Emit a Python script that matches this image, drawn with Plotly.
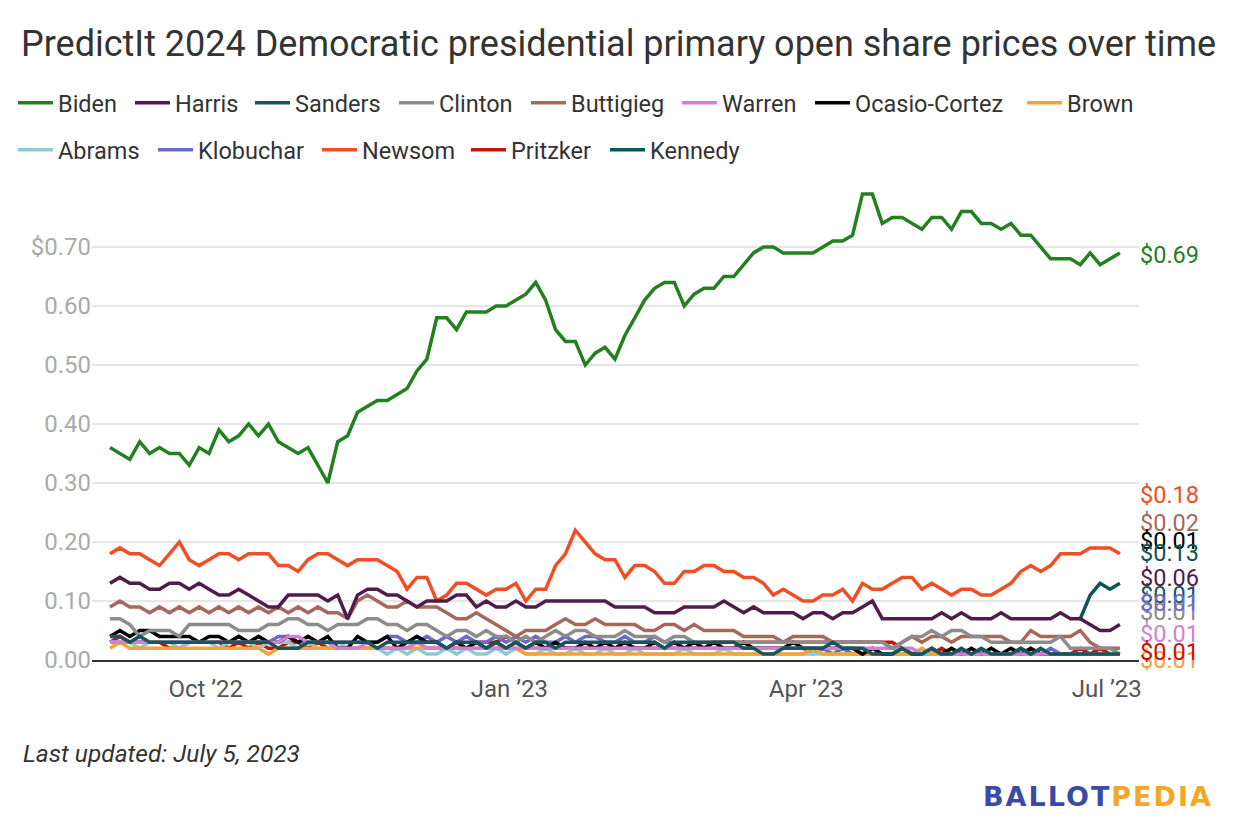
import pandas as pd
import plotly.graph_objects as go

# ---------------- data (share prices, sampled every 3 days) ----------------
dates = pd.date_range("2022-09-02", periods=103, freq="3D")

biden = [0.36,0.35,0.34,0.37,0.35,0.36,0.35,0.35,0.33,0.36,
         0.35,0.39,0.37,0.38,0.40,0.38,0.40,0.37,0.36,0.35,
         0.36,0.33,0.30,0.37,0.38,0.42,0.43,0.44,0.44,0.45,
         0.46,0.49,0.51,0.58,0.58,0.56,0.59,0.59,0.59,0.60,
         0.60,0.61,0.62,0.64,0.61,0.56,0.54,0.54,0.50,0.52,
         0.53,0.51,0.55,0.58,0.61,0.63,0.64,0.64,0.60,0.62,
         0.63,0.63,0.65,0.65,0.67,0.69,0.70,0.70,0.69,0.69,
         0.69,0.69,0.70,0.71,0.71,0.72,0.79,0.79,0.74,0.75,
         0.75,0.74,0.73,0.75,0.75,0.73,0.76,0.76,0.74,0.74,
         0.73,0.74,0.72,0.72,0.70,0.68,0.68,0.68,0.67,0.69,
         0.67,0.68,0.69]

harris = [0.13,0.14,0.13,0.13,0.12,0.12,0.13,0.13,0.12,0.13,
          0.12,0.11,0.11,0.12,0.11,0.10,0.09,0.09,0.11,0.11,
          0.11,0.11,0.10,0.11,0.07,0.11,0.12,0.12,0.11,0.11,
          0.10,0.09,0.10,0.10,0.10,0.11,0.11,0.09,0.10,0.09,
          0.09,0.10,0.09,0.09,0.10,0.10,0.10,0.10,0.10,0.10,
          0.10,0.09,0.09,0.09,0.09,0.08,0.08,0.08,0.09,0.09,
          0.09,0.09,0.10,0.09,0.08,0.09,0.08,0.08,0.08,0.08,
          0.07,0.08,0.08,0.07,0.08,0.08,0.09,0.10,0.07,0.07,
          0.07,0.07,0.07,0.07,0.08,0.07,0.08,0.07,0.07,0.07,
          0.08,0.07,0.07,0.07,0.07,0.07,0.08,0.07,0.07,0.06,
          0.05,0.05,0.06]

sanders = [0.04,0.04,0.03,0.04,0.03,0.03,0.03,0.03,0.03,0.03,
           0.03,0.03,0.03,0.03,0.03,0.03,0.03,0.02,0.02,0.02,
           0.03,0.03,0.03,0.03,0.03,0.03,0.03,0.02,0.03,0.03,
           0.03,0.03,0.03,0.03,0.02,0.03,0.03,0.03,0.02,0.03,
           0.02,0.03,0.02,0.03,0.03,0.02,0.03,0.03,0.03,0.03,
           0.03,0.03,0.03,0.03,0.03,0.03,0.02,0.03,0.03,0.03,
           0.03,0.03,0.03,0.03,0.02,0.02,0.01,0.01,0.02,0.02,
           0.02,0.02,0.02,0.03,0.02,0.02,0.02,0.01,0.01,0.01,
           0.02,0.01,0.01,0.02,0.01,0.01,0.02,0.01,0.02,0.01,
           0.01,0.01,0.02,0.01,0.02,0.01,0.01,0.01,0.01,0.01,
           0.01,0.01,0.01]

clinton = [0.07,0.07,0.06,0.04,0.05,0.05,0.05,0.04,0.06,0.06,
           0.06,0.06,0.06,0.05,0.05,0.05,0.06,0.06,0.07,0.07,
           0.06,0.06,0.05,0.06,0.06,0.06,0.07,0.07,0.06,0.06,
           0.05,0.06,0.06,0.05,0.04,0.05,0.05,0.04,0.05,0.04,
           0.04,0.03,0.04,0.03,0.04,0.05,0.04,0.05,0.05,0.04,
           0.04,0.04,0.05,0.04,0.04,0.04,0.03,0.04,0.04,0.03,
           0.03,0.03,0.03,0.03,0.03,0.03,0.03,0.03,0.03,0.03,
           0.03,0.03,0.03,0.03,0.03,0.03,0.03,0.03,0.03,0.02,
           0.03,0.04,0.04,0.05,0.04,0.05,0.05,0.04,0.04,0.03,
           0.03,0.03,0.03,0.03,0.03,0.03,0.04,0.02,0.02,0.02,
           0.02,0.02,0.01]

buttigieg = [0.09,0.10,0.09,0.09,0.08,0.09,0.08,0.09,0.08,0.09,
             0.08,0.09,0.08,0.09,0.08,0.09,0.08,0.09,0.08,0.09,
             0.08,0.09,0.08,0.08,0.07,0.10,0.11,0.10,0.09,0.09,
             0.10,0.09,0.09,0.09,0.08,0.07,0.07,0.08,0.07,0.06,
             0.05,0.04,0.05,0.05,0.05,0.06,0.07,0.06,0.06,0.07,
             0.06,0.06,0.06,0.06,0.05,0.05,0.06,0.06,0.05,0.06,
             0.05,0.05,0.05,0.05,0.04,0.04,0.04,0.04,0.03,0.04,
             0.04,0.04,0.04,0.03,0.03,0.03,0.03,0.03,0.03,0.02,
             0.03,0.04,0.03,0.04,0.04,0.03,0.04,0.04,0.04,0.04,
             0.04,0.03,0.03,0.05,0.04,0.04,0.04,0.04,0.05,0.03,
             0.02,0.02,0.02]

warren = [0.03,0.03,0.03,0.03,0.03,0.03,0.03,0.03,0.03,0.03,
          0.03,0.03,0.03,0.03,0.03,0.03,0.03,0.03,0.04,0.04,
          0.03,0.03,0.03,0.02,0.02,0.02,0.03,0.02,0.02,0.02,
          0.02,0.03,0.02,0.02,0.02,0.02,0.02,0.02,0.02,0.02,
          0.02,0.02,0.02,0.02,0.02,0.02,0.02,0.02,0.02,0.02,
          0.02,0.02,0.02,0.02,0.02,0.02,0.02,0.02,0.02,0.02,
          0.02,0.02,0.02,0.02,0.02,0.02,0.02,0.02,0.02,0.02,
          0.02,0.02,0.02,0.02,0.02,0.02,0.02,0.02,0.02,0.02,
          0.02,0.02,0.01,0.02,0.01,0.01,0.01,0.01,0.01,0.01,
          0.01,0.01,0.01,0.01,0.01,0.01,0.01,0.01,0.01,0.01,
          0.01,0.01,0.01]

ocasio_cortez = [0.04,0.05,0.04,0.05,0.05,0.04,0.04,0.04,0.04,0.03,
                 0.04,0.04,0.03,0.04,0.03,0.04,0.03,0.03,0.04,0.03,
                 0.04,0.03,0.04,0.02,0.02,0.04,0.03,0.03,0.04,0.02,
                 0.03,0.04,0.03,0.03,0.02,0.03,0.02,0.03,0.02,0.03,
                 0.02,0.03,0.02,0.03,0.02,0.03,0.02,0.02,0.03,0.02,
                 0.03,0.02,0.03,0.02,0.02,0.03,0.02,0.03,0.02,0.03,
                 0.02,0.03,0.02,0.02,0.03,0.02,0.02,0.02,0.02,0.03,
                 0.02,0.02,0.02,0.02,0.02,0.02,0.01,0.02,0.01,0.01,
                 0.02,0.01,0.01,0.02,0.01,0.02,0.01,0.02,0.01,0.02,
                 0.01,0.02,0.01,0.02,0.01,0.01,0.01,0.01,0.01,0.01,
                 0.01,0.01,0.01]

brown = [0.02,0.03,0.02,0.02,0.02,0.02,0.02,0.02,0.02,0.02,
         0.02,0.02,0.02,0.02,0.02,0.02,0.01,0.02,0.02,0.02,
         0.02,0.02,0.02,0.02,0.02,0.02,0.02,0.02,0.02,0.02,
         0.02,0.02,0.02,0.02,0.02,0.02,0.02,0.02,0.02,0.02,
         0.02,0.02,0.01,0.01,0.01,0.01,0.01,0.01,0.01,0.01,
         0.01,0.01,0.01,0.01,0.01,0.01,0.01,0.01,0.01,0.01,
         0.01,0.01,0.01,0.01,0.01,0.01,0.01,0.01,0.01,0.01,
         0.01,0.02,0.01,0.01,0.01,0.01,0.01,0.01,0.01,0.01,
         0.01,0.01,0.02,0.01,0.01,0.01,0.01,0.01,0.01,0.01,
         0.01,0.01,0.01,0.01,0.01,0.01,0.01,0.01,0.01,0.01,
         0.01,0.01,0.01]

abrams = [0.03,0.03,0.03,0.02,0.03,0.03,0.03,0.02,0.03,0.03,
          0.03,0.02,0.03,0.03,0.03,0.02,0.03,0.03,0.03,0.02,
          0.03,0.02,0.02,0.03,0.02,0.02,0.02,0.02,0.01,0.02,
          0.01,0.02,0.01,0.01,0.02,0.01,0.02,0.01,0.01,0.02,
          0.01,0.02,0.01,0.01,0.02,0.01,0.01,0.02,0.01,0.01,
          0.02,0.01,0.01,0.02,0.01,0.01,0.01,0.01,0.02,0.01,
          0.01,0.01,0.02,0.01,0.01,0.01,0.01,0.01,0.01,0.01,
          0.01,0.01,0.01,0.01,0.01,0.01,0.01,0.01,0.01,0.01,
          0.01,0.01,0.01,0.01,0.01,0.01,0.01,0.01,0.01,0.01,
          0.01,0.01,0.01,0.01,0.01,0.01,0.01,0.01,0.01,0.01,
          0.01,0.01,0.01]

klobuchar = [0.03,0.03,0.03,0.03,0.03,0.03,0.03,0.03,0.03,0.03,
             0.03,0.03,0.03,0.03,0.03,0.03,0.03,0.04,0.04,0.03,
             0.03,0.03,0.03,0.03,0.03,0.03,0.03,0.03,0.04,0.04,
             0.03,0.03,0.04,0.03,0.04,0.03,0.04,0.03,0.03,0.04,
             0.03,0.04,0.03,0.04,0.03,0.03,0.04,0.03,0.04,0.04,
             0.03,0.03,0.04,0.03,0.03,0.04,0.03,0.03,0.02,0.02,
             0.02,0.02,0.02,0.02,0.02,0.02,0.02,0.02,0.02,0.02,
             0.02,0.01,0.02,0.01,0.02,0.01,0.01,0.01,0.01,0.01,
             0.01,0.01,0.01,0.01,0.01,0.01,0.01,0.01,0.01,0.01,
             0.01,0.01,0.01,0.01,0.01,0.02,0.01,0.01,0.01,0.01,
             0.01,0.01,0.01]

newsom = [0.18,0.19,0.18,0.18,0.17,0.16,0.18,0.20,0.17,0.16,
          0.17,0.18,0.18,0.17,0.18,0.18,0.18,0.16,0.16,0.15,
          0.17,0.18,0.18,0.17,0.16,0.17,0.17,0.17,0.16,0.15,
          0.12,0.14,0.14,0.10,0.11,0.13,0.13,0.12,0.11,0.12,
          0.12,0.13,0.10,0.12,0.12,0.16,0.18,0.22,0.20,0.18,
          0.17,0.17,0.14,0.16,0.16,0.15,0.13,0.13,0.15,0.15,
          0.16,0.16,0.15,0.15,0.14,0.14,0.13,0.11,0.12,0.11,
          0.10,0.10,0.11,0.11,0.12,0.10,0.13,0.12,0.12,0.13,
          0.14,0.14,0.12,0.13,0.12,0.11,0.12,0.12,0.11,0.11,
          0.12,0.13,0.15,0.16,0.15,0.16,0.18,0.18,0.18,0.19,
          0.19,0.19,0.18]

pritzker = [0.03,0.04,0.03,0.03,0.03,0.03,0.02,0.02,0.03,0.03,
            0.03,0.03,0.02,0.03,0.02,0.03,0.02,0.02,0.03,0.03,
            0.02,0.03,0.02,0.02,0.02,0.02,0.02,0.02,0.02,0.02,
            0.02,0.03,0.02,0.02,0.02,0.02,0.02,0.03,0.03,0.03,
            0.04,0.03,0.02,0.02,0.02,0.02,0.02,0.02,0.02,0.02,
            0.02,0.02,0.02,0.02,0.02,0.02,0.02,0.02,0.02,0.02,
            0.02,0.03,0.03,0.03,0.03,0.03,0.03,0.03,0.03,0.03,
            0.03,0.03,0.03,0.03,0.03,0.03,0.03,0.03,0.03,0.03,
            0.02,0.01,0.01,0.01,0.02,0.01,0.01,0.01,0.01,0.01,
            0.01,0.01,0.02,0.01,0.01,0.01,0.01,0.01,0.02,0.01,
            0.02,0.01,0.01]

kennedy_dates = dates[-5:]
kennedy = [0.07,0.11,0.13,0.12,0.13]

names = ["Biden", "Harris", "Sanders", "Clinton", "Buttigieg", "Warren",
         "Ocasio-Cortez", "Brown", "Abrams", "Klobuchar", "Newsom",
         "Pritzker", "Kennedy"]
values = [biden, harris, sanders, clinton, buttigieg, warren, ocasio_cortez,
          brown, abrams, klobuchar, newsom, pritzker, kennedy]
xs = [dates] * 12 + [kennedy_dates]

# ---------------- styling / layout positions ----------------
colors = ["#23801f", "#521b4d", "#17575c", "#8c8c8c", "#a5695a", "#d47fd6",
          "#000000", "#f2a33a", "#93c8d2", "#6c6cc8", "#f04e23", "#c1160c",
          "#0f5459"]
# legend entry positions (left end of the key line, px) and row centre (px)
legend_px = [20, 137, 257, 401, 533, 684, 817, 1029, 20, 160, 324, 473, 612]
legend_row = [103] * 8 + [150] * 5
# end-label vertical positions (axis units, de-collided like the original)
label_y = [0.686, 0.139, 0.110, 0.082, 0.232, 0.044, 0.202, 0.000, -0.009,
           0.097, 0.280, 0.014, 0.181]

y_ticks = [0, 0.1, 0.2, 0.3, 0.4, 0.5, 0.6, 0.7]
y_ticktext = ["0.00", "0.10", "0.20", "0.30", "0.40", "0.50", "0.60", "$0.70"]
x_ticks = ["2022-10-01", "2023-01-01", "2023-04-01", "2023-07-01"]
x_ticktext = ["Oct \u201922", "Jan \u201923", "Apr \u201923", "Jul \u201923"]

for v in values[:-1]:
    assert len(v) == len(dates), len(v)

FONT = "Roboto"
W, H = 1240, 840
L, R, T, B = 92, 101, 188, 180
PW, PH = W - L - R, H - T - B
LEG_OFFSET = 7   # px between legend box origin and the key line

fig = go.Figure()
# draw in reverse so the first series sits on top
for i in reversed(range(len(names))):
    fig.add_trace(go.Scatter(
        x=xs[i], y=values[i], name=names[i], mode="lines",
        line=dict(color=colors[i], width=3.5),
        legend="legend" if i == 0 else "legend%d" % (i + 1),
        hoverinfo="skip",
    ))

legends = {}
for i in range(len(names)):
    key = "legend" if i == 0 else "legend%d" % (i + 1)
    legends[key] = dict(
        orientation="h", xref="container", yref="container",
        x=(legend_px[i] - LEG_OFFSET) / W, xanchor="left",
        y=1 - legend_row[i] / H, yanchor="middle",
        font=dict(family=FONT, size=23.5, color="#333333"),
        bgcolor="rgba(0,0,0,0)", itemwidth=35, itemclick=False,
    )

annotations = []
for i in range(len(names)):
    annotations.append(dict(
        xref="paper", yref="y", x=1, y=label_y[i], xanchor="left",
        yanchor="middle", xshift=-1, showarrow=False,
        text="$%.2f" % values[i][-1],
        font=dict(family=FONT, size=23.5, color=colors[i]),
    ))

annotations.append(dict(
    xref="paper", yref="paper", x=(21 - L) / PW, y=(660 - 753) / PH,
    xanchor="left", yanchor="middle", showarrow=False,
    text="<i>Last updated: July 5, 2023</i>",
    font=dict(family=FONT, size=24.5, color="#333333"),
))
annotations.append(dict(
    xref="paper", yref="paper", x=(1215 - L) / PW, y=(660 - 796) / PH,
    xanchor="right", yanchor="middle", showarrow=False,
    text="<b><span style='color:#3a4aa6;letter-spacing:2px'>BALLOT</span>"
         "<span style='color:#f5a623;letter-spacing:2px'>PEDIA</span></b>",
    font=dict(family="DejaVu Sans", size=27),
))

fig.update_layout(
    width=W, height=H,
    margin=dict(l=L, r=R, t=T, b=B),
    paper_bgcolor="white", plot_bgcolor="white",
    font=dict(family=FONT, color="#333333"),
    title=dict(
        text="PredictIt 2024 Democratic presidential primary open share prices over time",
        x=21 / W, xanchor="left", xref="container",
        y=1 - 43 / H, yanchor="middle", yref="container",
        font=dict(family=FONT, size=36, color="#333333"),
    ),
    showlegend=True,
    xaxis=dict(
        type="date",
        range=["2022-08-27 13:00", "2023-07-10 19:00"],
        tickvals=x_ticks, ticktext=x_ticktext,
        tickfont=dict(family=FONT, size=24, color="#555555"),
        showgrid=False, zeroline=False,
        showline=True, linecolor="#333333", linewidth=2,
        ticks="", ticklabelstandoff=6,
    ),
    yaxis=dict(
        range=[0, 0.8],
        tickvals=y_ticks, ticktext=y_ticktext,
        tickfont=dict(family=FONT, size=24, color="#aaaaaa"),
        showgrid=True, gridcolor="#e6e6e6", gridwidth=1.5,
        zeroline=False, showline=False, ticks="",
    ),
    annotations=annotations,
    **legends,
)

fig.write_html("out.html", config={"displayModeBar": False})
